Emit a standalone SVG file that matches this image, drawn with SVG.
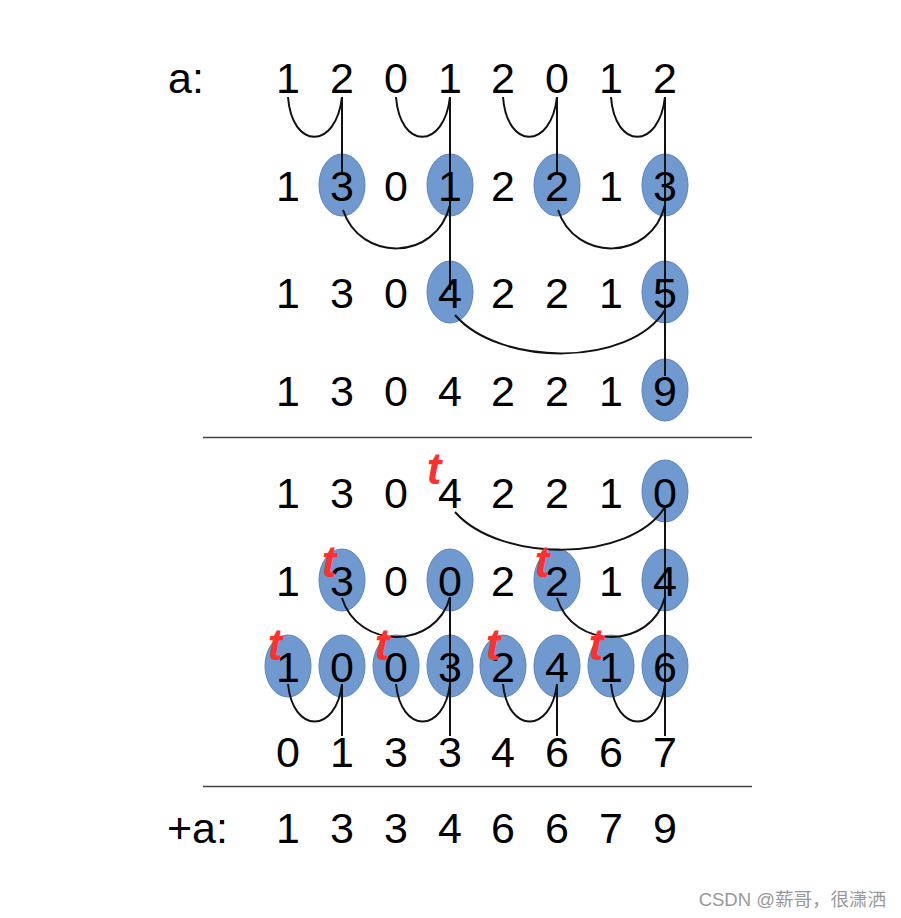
<svg xmlns="http://www.w3.org/2000/svg" width="901" height="918" viewBox="0 0 901 918">
<style>
.d{font-family:"Liberation Sans",Arial,sans-serif;font-size:43px;fill:#000;text-anchor:middle}
.lb{font-family:"Liberation Sans",Arial,sans-serif;font-size:43px;fill:#000}
.e{fill:#7099cf;stroke:#5b84ba;stroke-width:1}
.c{fill:none;stroke:#111;stroke-width:2}
.t{font-family:"Liberation Sans",Arial,sans-serif;font-size:44px;font-weight:bold;font-style:italic;fill:#ff3030;text-anchor:middle}
.hr{stroke:#444;stroke-width:1.6}
.wm{font-family:"Liberation Sans","Noto Sans CJK SC",sans-serif;font-size:18.5px;fill:#999;text-anchor:end}
</style>
<rect width="901" height="918" fill="#fff"/>
<g id="highlights">
<ellipse class="e" cx="342" cy="185" rx="23" ry="31"/>
<ellipse class="e" cx="450" cy="185" rx="23" ry="31"/>
<ellipse class="e" cx="557" cy="185" rx="23" ry="31"/>
<ellipse class="e" cx="665" cy="185" rx="23" ry="31"/>
<ellipse class="e" cx="450" cy="292" rx="23" ry="31"/>
<ellipse class="e" cx="665" cy="292" rx="23" ry="31"/>
<ellipse class="e" cx="665" cy="390" rx="23" ry="31"/>
<ellipse class="e" cx="665" cy="491" rx="23" ry="31"/>
<ellipse class="e" cx="342" cy="580" rx="23" ry="31"/>
<ellipse class="e" cx="450" cy="580" rx="23" ry="31"/>
<ellipse class="e" cx="557" cy="580" rx="23" ry="31"/>
<ellipse class="e" cx="665" cy="580" rx="23" ry="31"/>
<ellipse class="e" cx="288" cy="666" rx="23" ry="31"/>
<ellipse class="e" cx="342" cy="666" rx="23" ry="31"/>
<ellipse class="e" cx="396" cy="666" rx="23" ry="31"/>
<ellipse class="e" cx="450" cy="666" rx="23" ry="31"/>
<ellipse class="e" cx="503" cy="666" rx="23" ry="31"/>
<ellipse class="e" cx="557" cy="666" rx="23" ry="31"/>
<ellipse class="e" cx="611" cy="666" rx="23" ry="31"/>
<ellipse class="e" cx="665" cy="666" rx="23" ry="31"/>
</g>
<g id="connectors">
<path class="c" d="M288,97 C292,150 336,150 342,97"/>
<path class="c" d="M396,97 C400,150 444,150 450,97"/>
<path class="c" d="M503,97 C507,150 551,150 557,97"/>
<path class="c" d="M611,97 C615,150 659,150 665,97"/>
<path class="c" d="M342,97 V175"/>
<path class="c" d="M450,97 V290"/>
<path class="c" d="M557,97 V175"/>
<path class="c" d="M665,97 V376"/>
<path class="c" d="M343,210 C360,262 436,262 450,205"/>
<path class="c" d="M558,210 C575,262 651,262 665,205"/>
<path class="c" d="M455,315 C500,367 630,367 665,310"/>
<path class="c" d="M455,512 C500,563 630,563 665,507"/>
<path class="c" d="M665,507 V736"/>
<path class="c" d="M342,598 C358,650 436,650 450,597"/>
<path class="c" d="M557,598 C573,650 651,650 665,597"/>
<path class="c" d="M450,597 V736"/>
<path class="c" d="M288,684 C293,734 336,734 342,684"/>
<path class="c" d="M396,684 C401,734 444,734 450,684"/>
<path class="c" d="M503,684 C508,734 551,734 557,684"/>
<path class="c" d="M611,684 C616,734 659,734 665,684"/>
<path class="c" d="M342,684 V736"/>
<path class="c" d="M557,684 V736"/>
<line class="hr" x1="203" y1="437.5" x2="752" y2="437.5"/>
<line class="hr" x1="203" y1="786.5" x2="752" y2="786.5"/>
</g>
<g id="row1"><text class="lb" x="168" y="93">a:</text>
<text class="d" x="288" y="93">1</text><text class="d" x="342" y="93">2</text><text class="d" x="396" y="93">0</text><text class="d" x="450" y="93">1</text><text class="d" x="503" y="93">2</text><text class="d" x="557" y="93">0</text><text class="d" x="611" y="93">1</text><text class="d" x="665" y="93">2</text></g>
<g id="row2"><text class="d" x="288" y="201">1</text><text class="d" x="342" y="201">3</text><text class="d" x="396" y="201">0</text><text class="d" x="450" y="201">1</text><text class="d" x="503" y="201">2</text><text class="d" x="557" y="201">2</text><text class="d" x="611" y="201">1</text><text class="d" x="665" y="201">3</text></g>
<g id="row3"><text class="d" x="288" y="308">1</text><text class="d" x="342" y="308">3</text><text class="d" x="396" y="308">0</text><text class="d" x="450" y="308">4</text><text class="d" x="503" y="308">2</text><text class="d" x="557" y="308">2</text><text class="d" x="611" y="308">1</text><text class="d" x="665" y="308">5</text></g>
<g id="row4"><text class="d" x="288" y="406">1</text><text class="d" x="342" y="406">3</text><text class="d" x="396" y="406">0</text><text class="d" x="450" y="406">4</text><text class="d" x="503" y="406">2</text><text class="d" x="557" y="406">2</text><text class="d" x="611" y="406">1</text><text class="d" x="665" y="406">9</text></g>
<g id="row5"><text class="d" x="288" y="508">1</text><text class="d" x="342" y="508">3</text><text class="d" x="396" y="508">0</text><text class="d" x="450" y="508">4</text><text class="d" x="503" y="508">2</text><text class="d" x="557" y="508">2</text><text class="d" x="611" y="508">1</text><text class="d" x="665" y="508">0</text></g>
<g id="row6"><text class="d" x="288" y="596">1</text><text class="d" x="342" y="596">3</text><text class="d" x="396" y="596">0</text><text class="d" x="450" y="596">0</text><text class="d" x="503" y="596">2</text><text class="d" x="557" y="596">2</text><text class="d" x="611" y="596">1</text><text class="d" x="665" y="596">4</text></g>
<g id="row7"><text class="d" x="288" y="682">1</text><text class="d" x="342" y="682">0</text><text class="d" x="396" y="682">0</text><text class="d" x="450" y="682">3</text><text class="d" x="503" y="682">2</text><text class="d" x="557" y="682">4</text><text class="d" x="611" y="682">1</text><text class="d" x="665" y="682">6</text></g>
<g id="row8"><text class="d" x="288" y="767">0</text><text class="d" x="342" y="767">1</text><text class="d" x="396" y="767">3</text><text class="d" x="450" y="767">3</text><text class="d" x="503" y="767">4</text><text class="d" x="557" y="767">6</text><text class="d" x="611" y="767">6</text><text class="d" x="665" y="767">7</text></g>
<g id="row9"><text class="lb" x="167" y="843">+a:</text>
<text class="d" x="288" y="843">1</text><text class="d" x="342" y="843">3</text><text class="d" x="396" y="843">3</text><text class="d" x="450" y="843">4</text><text class="d" x="503" y="843">6</text><text class="d" x="557" y="843">6</text><text class="d" x="611" y="843">7</text><text class="d" x="665" y="843">9</text></g>
<g id="t-marks">
<text class="t" x="434" y="484">t</text>
<text class="t" x="329" y="577">t</text>
<text class="t" x="542" y="577">t</text>
<text class="t" x="275" y="660">t</text>
<text class="t" x="382" y="660">t</text>
<text class="t" x="493" y="660">t</text>
<text class="t" x="596" y="660">t</text>
</g>
<text class="wm" x="886" y="906">CSDN @薪哥，很潇洒</text>
</svg>
